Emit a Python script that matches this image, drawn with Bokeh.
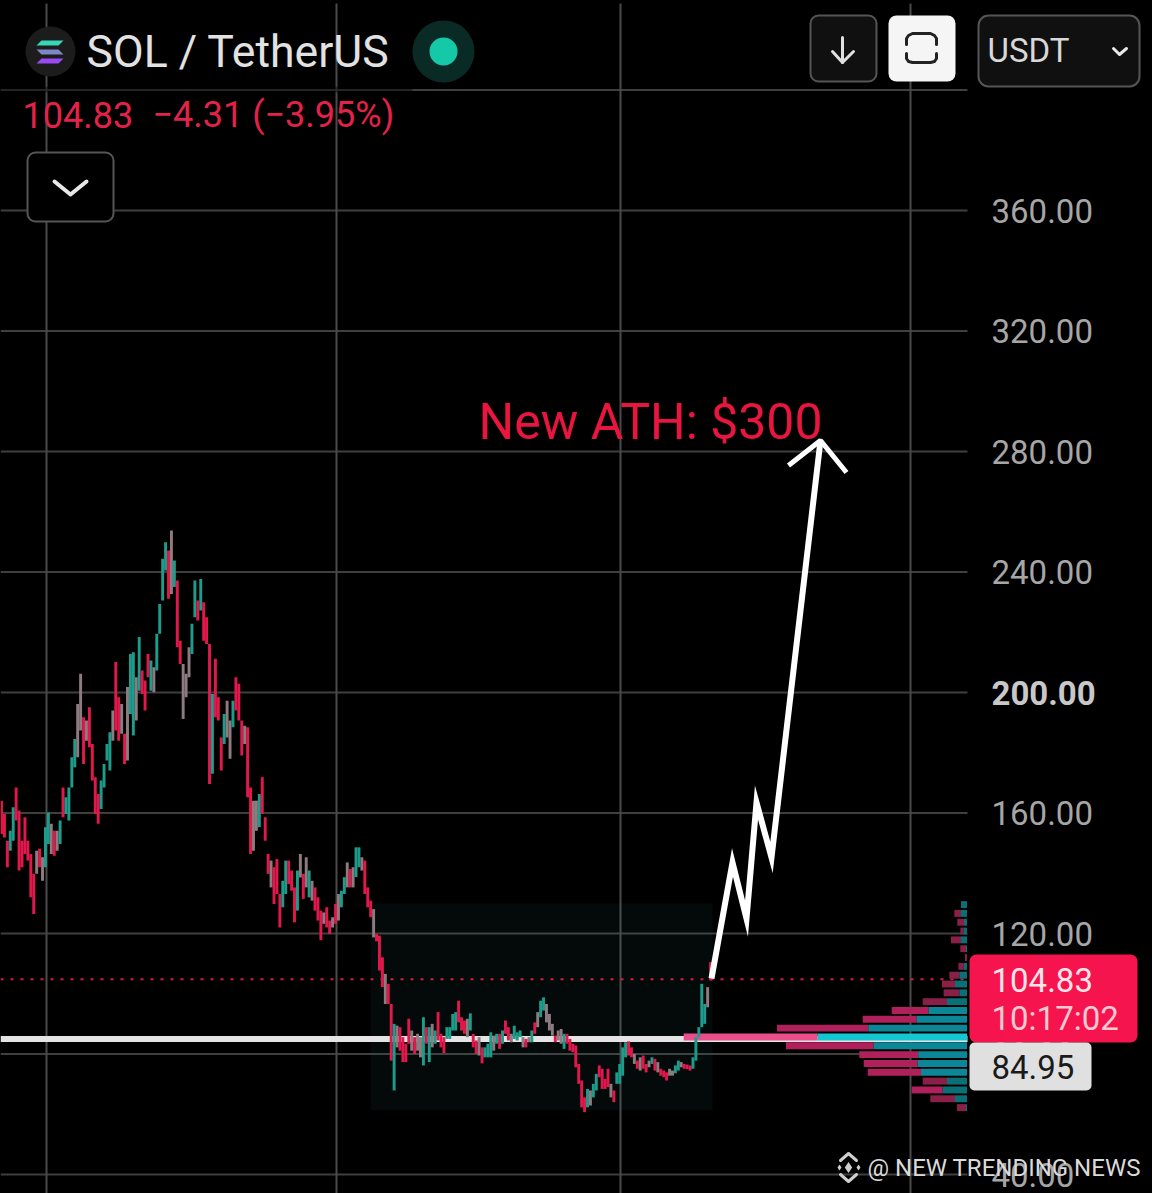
from bokeh.core.properties import value
from bokeh.embed import file_html
from bokeh.models import ColumnDataSource, FixedTicker, LinearAxis, NumeralTickFormatter, Range1d
from bokeh.plotting import figure
from bokeh.resources import INLINE

# ---------- data ----------
bar_high = [
164.1,159.7,150.8,154.1,161.9,168.5,160.8,150.8,158.6,150.8,146.4,139.8,147.5,148.1,145.3,155.3,160.2,156.4,154.1,154.1,
157.5,168.5,165.2,168.5,178.5,184.6,196.2,206.2,191.8,190.7,195.1,182.9,171.9,166.3,170.8,176.3,182.9,186.8,194.0,210.1,
198.4,196.2,186.3,201.8,212.8,213.4,205.1,218.4,207.3,204.0,212.8,210.6,208.4,219.5,229.4,244.4,249.9,247.1,253.8,243.8,
237.2,217.2,209.5,206.2,215.0,222.8,237.2,230.5,237.7,230.0,225.0,216.1,199.5,211.2,198.4,185.1,192.9,197.3,190.7,197.3,
205.1,202.9,190.7,189.0,188.5,168.5,164.1,164.1,166.3,171.9,158.6,146.4,144.2,142.0,144.7,133.1,137.5,144.2,144.2,140.9,
135.3,140.9,146.4,139.8,145.3,140.9,137.5,135.3,132.0,127.6,127.0,128.7,124.3,125.4,129.8,133.1,134.2,138.7,143.6,
141.4,142.0,148.6,148.6,145.3,144.2,135.3,130.9,128.1,119.8,
119.3,112.1,106.6,103.3,96.6,90.0,89.4,88.9,85.6,83.4,91.7,87.8,85.6,86.7,85.6,92.2,88.9,88.9,90.0,87.8,
93.9,86.7,85.6,88.9,88.9,93.3,93.9,97.7,92.2,91.1,91.7,93.5,86.7,84.5,85.6,82.2,82.2,83.4,87.2,86.1,
86.7,86.7,87.8,91.1,88.9,86.7,89.4,87.2,87.8,85.6,85.0,85.6,87.8,90.5,93.9,97.7,98.8,96.6,93.3,90.0,
86.1,87.8,88.3,86.7,86.7,85.0,83.4,82.8,76.7,71.2,65.6,68.4,67.9,70.1,73.4,76.2,75.1,71.7,75.1,70.1,
67.9,73.9,76.7,82.2,83.9,84.2,82.2,80.0,77.8,78.9,79.5,76.7,77.8,78.9,78.4,77.3,75.1,74.5,73.9,75.1,
74.5,76.2,77.8,77.3,76.7,76.5,76.2,78.9,85.6,88.9,103.3,96.6,102.2,110.5]
bar_low = [
153.0,151.9,142.0,147.5,150.8,157.5,140.9,142.0,146.4,144.2,132.0,126.5,139.8,142.0,137.5,142.0,149.7,146.4,145.8,147.5,
149.7,158.6,159.7,157.5,168.5,175.2,178.5,187.4,176.3,184.0,181.8,170.8,159.7,156.4,161.3,168.5,177.4,174.1,184.0,187.4,
184.0,186.3,176.3,177.4,192.9,185.7,190.7,200.6,199.5,194.0,205.1,200.6,200.1,207.3,219.5,230.5,240.5,231.1,232.7,235.0,
215.0,209.5,191.2,198.4,205.1,212.8,225.0,223.9,227.2,217.2,216.1,169.6,173.0,191.8,190.7,174.1,182.9,185.1,178.0,188.5,
194.0,190.7,179.1,182.9,165.2,146.4,147.5,154.1,155.3,159.7,150.8,139.8,135.3,129.8,133.1,122.0,128.7,133.1,136.4,134.2,
123.7,127.6,138.6,131.5,135.3,132.0,130.9,127.6,124.3,117.8,123.2,122.0,119.8,122.0,123.2,124.3,128.7,133.1,135.3,
135.3,135.3,138.7,142.0,140.9,133.1,128.7,125.4,118.7,117.4,
107.7,102.2,96.6,96.6,77.8,67.9,82.2,81.1,77.3,77.3,83.4,81.1,80.0,81.1,78.9,76.2,83.4,77.3,82.2,83.4,
84.5,82.2,80.3,85.0,85.0,87.8,87.8,90.5,87.8,86.7,85.6,87.8,82.2,80.0,79.5,76.9,78.9,78.9,78.9,81.1,
83.4,81.7,83.4,86.7,84.5,83.9,85.0,84.5,85.6,82.2,82.2,83.9,83.9,86.7,88.9,92.2,94.4,90.5,87.8,86.1,
83.9,84.5,83.4,81.7,83.4,81.1,80.6,75.6,70.1,62.3,60.7,62.3,62.9,65.6,67.9,72.3,68.4,68.4,69.0,65.6,
64.0,70.1,70.1,72.8,78.9,79.5,78.9,76.7,75.1,74.5,75.1,73.9,75.6,76.7,74.5,73.9,72.8,72.3,71.2,72.8,
72.8,73.6,74.5,75.6,75.1,75.0,74.5,75.1,77.8,85.6,88.9,90.0,95.5,104.4]
bar_side = list(
"rrrttrrrrrrrgrgttgrg"
"trttttggrgrrrrtttt" "gr"
"rgrgttgtrrrtgttttrgt"
"rrgggttrtrrrtrrrtggt"
"rrrgrrggtrrrgrrrttrr"
"rtgrgtgrrrgrrgrgttg"
"rgttgrrrgr"
"rrgrrtgrrrrgrggtrtgt"
"rrrttttrrrgtrrgrtttg"
"trtrrgtttgrgtrgttgg"
"g" "rggtrrrrrrrtgttrrrrg"
"rttttrrgrgrrgtrgrrrg"
"gttgrrrtttttgr"
)
last_price = 104.83
line_price = 84.95
axis_ticks = [40, 80, 120, 160, 240, 280, 320, 360]
bold_tick = [200]
grid_prices = [40, 80, 120, 160, 200, 240, 280, 320, 360, 400]
profile_top = 129.6
profile_step = 2.93
profile_up = [6, 6, 3, 3.3, 6, 1, 0, 3.3, 7.7, 12, 7.7, 20, 38.3, 50.3, 98.7, 149.3, 93.3, 48.7, 49.3, 46, 20, 24.3, 12, 1]
profile_down = [0, 6.7, 6.7, 3.3, 10, 5.7, 2, 5.3, 10, 13, 15.7, 24.3, 37, 54, 91.3, 134, 87.7, 59, 54, 53.3, 24.3, 31, 24.7, 9]

# ---------- picture-space helpers ----------
BAR = 2.93
WIDTH, HEIGHT = 1152, 1193
def fx(px): return (px - 1) / BAR
def fy(py): return 360 - (py - 210) / 3.0125
def fxs(a): return [fx(v) for v in a]
def fys(a): return [fy(v) for v in a]

p = figure(width=WIDTH, height=HEIGHT, output_backend="svg", toolbar_location=None,
           x_range=Range1d(fx(0), fx(WIDTH)), y_range=Range1d(fy(HEIGHT), fy(0)),
           y_axis_location="right", min_border=0, outline_line_color=None,
           background_fill_color="black", border_fill_color="black")
p.xaxis.visible = False
p.grid.visible = False

def style_axis(ax, bold=False):
    ax.fixed_location = fx(967)
    ax.formatter = NumeralTickFormatter(format="0.00")
    ax.axis_line_color = None
    ax.major_tick_line_color = None
    ax.minor_tick_line_color = None
    ax.major_label_standoff = 18
    ax.major_label_text_font = "Roboto"
    ax.major_label_text_font_size = "33px"
    ax.major_label_text_color = "#c8c8c8" if bold else "#a6a6a6"
    ax.major_label_text_font_style = "bold" if bold else "normal"

style_axis(p.yaxis[0])
p.yaxis[0].ticker = FixedTicker(ticks=axis_ticks)
ax2 = LinearAxis(ticker=FixedTicker(ticks=bold_tick))
style_axis(ax2, bold=True)
p.add_layout(ax2, "right")

GRID = "#3f3f3f"
p.segment(x0=fx(0), x1=fx(967), y0=grid_prices, y1=grid_prices, line_color=GRID, line_width=2)
vt = [46, 336, 620, 910]
p.segment(x0=fxs(vt), x1=fxs(vt), y0=fy(3), y1=fy(1193), line_color="#4a4a4a", line_width=2)
# header strip softens the topmost grid line
p.quad(left=fx(0), right=fx(412), top=fy(86), bottom=fy(92), fill_color="black", fill_alpha=0.4, line_color=None)

# consolidation box
p.quad(left=fx(370), right=fx(712), top=130.0, bottom=61.3, fill_color="#2a7a70", fill_alpha=0.08, line_color=None)

# key price lines
p.segment(x0=fx(0), x1=fx(967), y0=line_price, y1=line_price, line_color="#e4e4e4", line_width=6)
p.segment(x0=fx(0), x1=fx(967), y0=last_price, y1=last_price, line_color="#d0203f", line_width=2, line_dash="3 7")

# volume profile
def vp(v): return v / BAR
right_edge = fx(966.5)
rows = list(range(len(profile_up)))
centers = [profile_top - profile_step * i for i in rows]
up_l = [right_edge - vp(u) for u in profile_up]
dn_l = [right_edge - vp(u + d) for u, d in zip(profile_up, profile_down)]
up_c = ["#14c6d2" if u > 120 else ("#0d8797" if u > 30 else "#0b6f76") for u in profile_up]
dn_c = ["#ea4f8c" if d > 120 else ("#b0205a" if d > 30 else "#8a2048") for d in profile_down]
p.hbar(y=centers, left=dn_l, right=up_l, height=2.3, fill_color=dn_c, line_color=None)
p.hbar(y=centers, left=up_l, right=right_edge, height=2.3, fill_color=up_c, line_color=None)

# candles
n = min(len(bar_high), len(bar_low), len(bar_side))
cmap = {"r": "#e0184c", "t": "#1d9c8c", "g": "#8d7b80"}
src = ColumnDataSource(dict(x=list(range(n)), top=bar_high[:n], bottom=bar_low[:n],
                            c=[cmap[s] for s in bar_side[:n]]))
p.vbar(x="x", top="top", bottom="bottom", width=1.0, fill_color="c", line_color=None, source=src)

# forecast arrow
ax_ = [711, 732, 746, 756, 771, 820]
ay_ = [978, 862, 918, 802, 857, 440]
p.line(fxs(ax_), fys(ay_), line_color="white", line_width=6, line_join="miter")
p.line(fxs([788, 820, 846]), fys([465, 440, 472]), line_color="white", line_width=5)

def txt(px, py, s, color, size, align="left", font="Roboto", style="normal"):
    p.text(x=[fx(px)], y=[fy(py)], text=[s], text_color=color, text_font=value(font),
           text_font_size=size, text_align=align, text_baseline="middle",
           text_font_style=style, level="overlay")

def box(l, t, r, b, fill, stroke=None, radius=8, sw=2):
    p.quad(left=fx(l), right=fx(r), top=fy(t), bottom=fy(b), fill_color=fill, line_color=stroke,
           line_width=sw, border_radius=radius, level="overlay")

def pl(xs, ys, color, w):
    p.line(fxs(xs), fys(ys), line_color=color, line_width=w, level="overlay",
           line_cap="round", line_join="round")

txt(478, 421, "New ATH: $300", "#e8153f", "50px")

# price tags
box(969, 954, 1137, 1042, "#f5144d", radius=7)
txt(991, 979, "104.83", "#ffe4e8", "33px")
txt(991, 1018, "10:17:02", "#ffc9d2", "33px")
box(969, 1042, 1091, 1090, "#e0e0e0", radius=5)
txt(991, 1066, "84.95", "#1a1a1a", "33px")

# header
p.circle(x=[fx(50)], y=[fy(51)], radius=25 / BAR, fill_color="#1c1c1c", line_color=None, level="overlay")
for ys_, col in (([45, 45, 40, 40], "#38d6b8"), ([49, 49, 54, 54], "#7f86c6"), ([63, 63, 58, 58], "#9a4af0")):
    p.patch(fxs([36, 58, 63, 41]), fys(ys_), fill_color=col, line_color=None, level="overlay")
txt(86, 51, "SOL / TetherUS", "#e2e2e2", "44.6px")
p.circle(x=[fx(443)], y=[fy(51)], radius=31 / BAR, fill_color="#0a2a26", line_color=None, level="overlay")
p.circle(x=[fx(443)], y=[fy(51)], radius=14 / BAR, fill_color="#14c8a8", line_color=None, level="overlay")
txt(22, 114, "104.83", "#e3224a", "36px")
txt(152, 114, "\u22124.31 (\u22123.95%)", "#e3224a", "36px")

box(27, 152, 113, 221, "#000000", "#555555")
pl([54, 70, 86], [181, 194, 181], "#e8e8e8", 4)

box(810, 15, 876, 81, "#101010", "#555555")
pl([842, 842], [37, 62], "#e0e0e0", 3)
pl([832, 842, 853], [51, 62, 51], "#e0e0e0", 3)

box(888, 15, 955, 81, "#f5f5f5")
pl([906, 906, 908, 912, 930, 934, 936, 936], [44, 38, 35, 33, 33, 35, 38, 44], "#222222", 3)
pl([906, 906, 908, 912, 930, 934, 936, 936], [53, 58, 61, 62, 62, 61, 58, 53], "#222222", 3)

box(978, 15, 1139, 86, "#101010", "#555555", radius=10)
txt(987, 50, "USDT", "#d8d8d8", "33px")
pl([1113, 1119, 1126], [48, 54, 48], "#e8e8e8", 3)

# watermark
WM = "#cfcfcf"
for cx, cy, s in ((848, 1167, 11), (839, 1167, 6), (858, 1167, 6)):
    p.scatter(x=[fx(cx)], y=[fy(cy)], size=s, marker="diamond", fill_color=WM, line_color=None, level="overlay")
pl([840, 848, 856], [1160, 1153, 1160], WM, 3)
pl([840, 848, 856], [1174, 1181, 1174], WM, 3)
txt(867, 1167, "@ NEW TRENDING NEWS", "#dadada", "24px")

html = file_html(p, INLINE).replace("<head>", "<head><style>html,body{background:#000}</style>", 1)
open("out.html", "w").write(html)
if not (len(bar_high) == len(bar_low) == len(bar_side)):
    raise SystemExit(f"LEN {len(bar_high)} {len(bar_low)} {len(bar_side)}")
